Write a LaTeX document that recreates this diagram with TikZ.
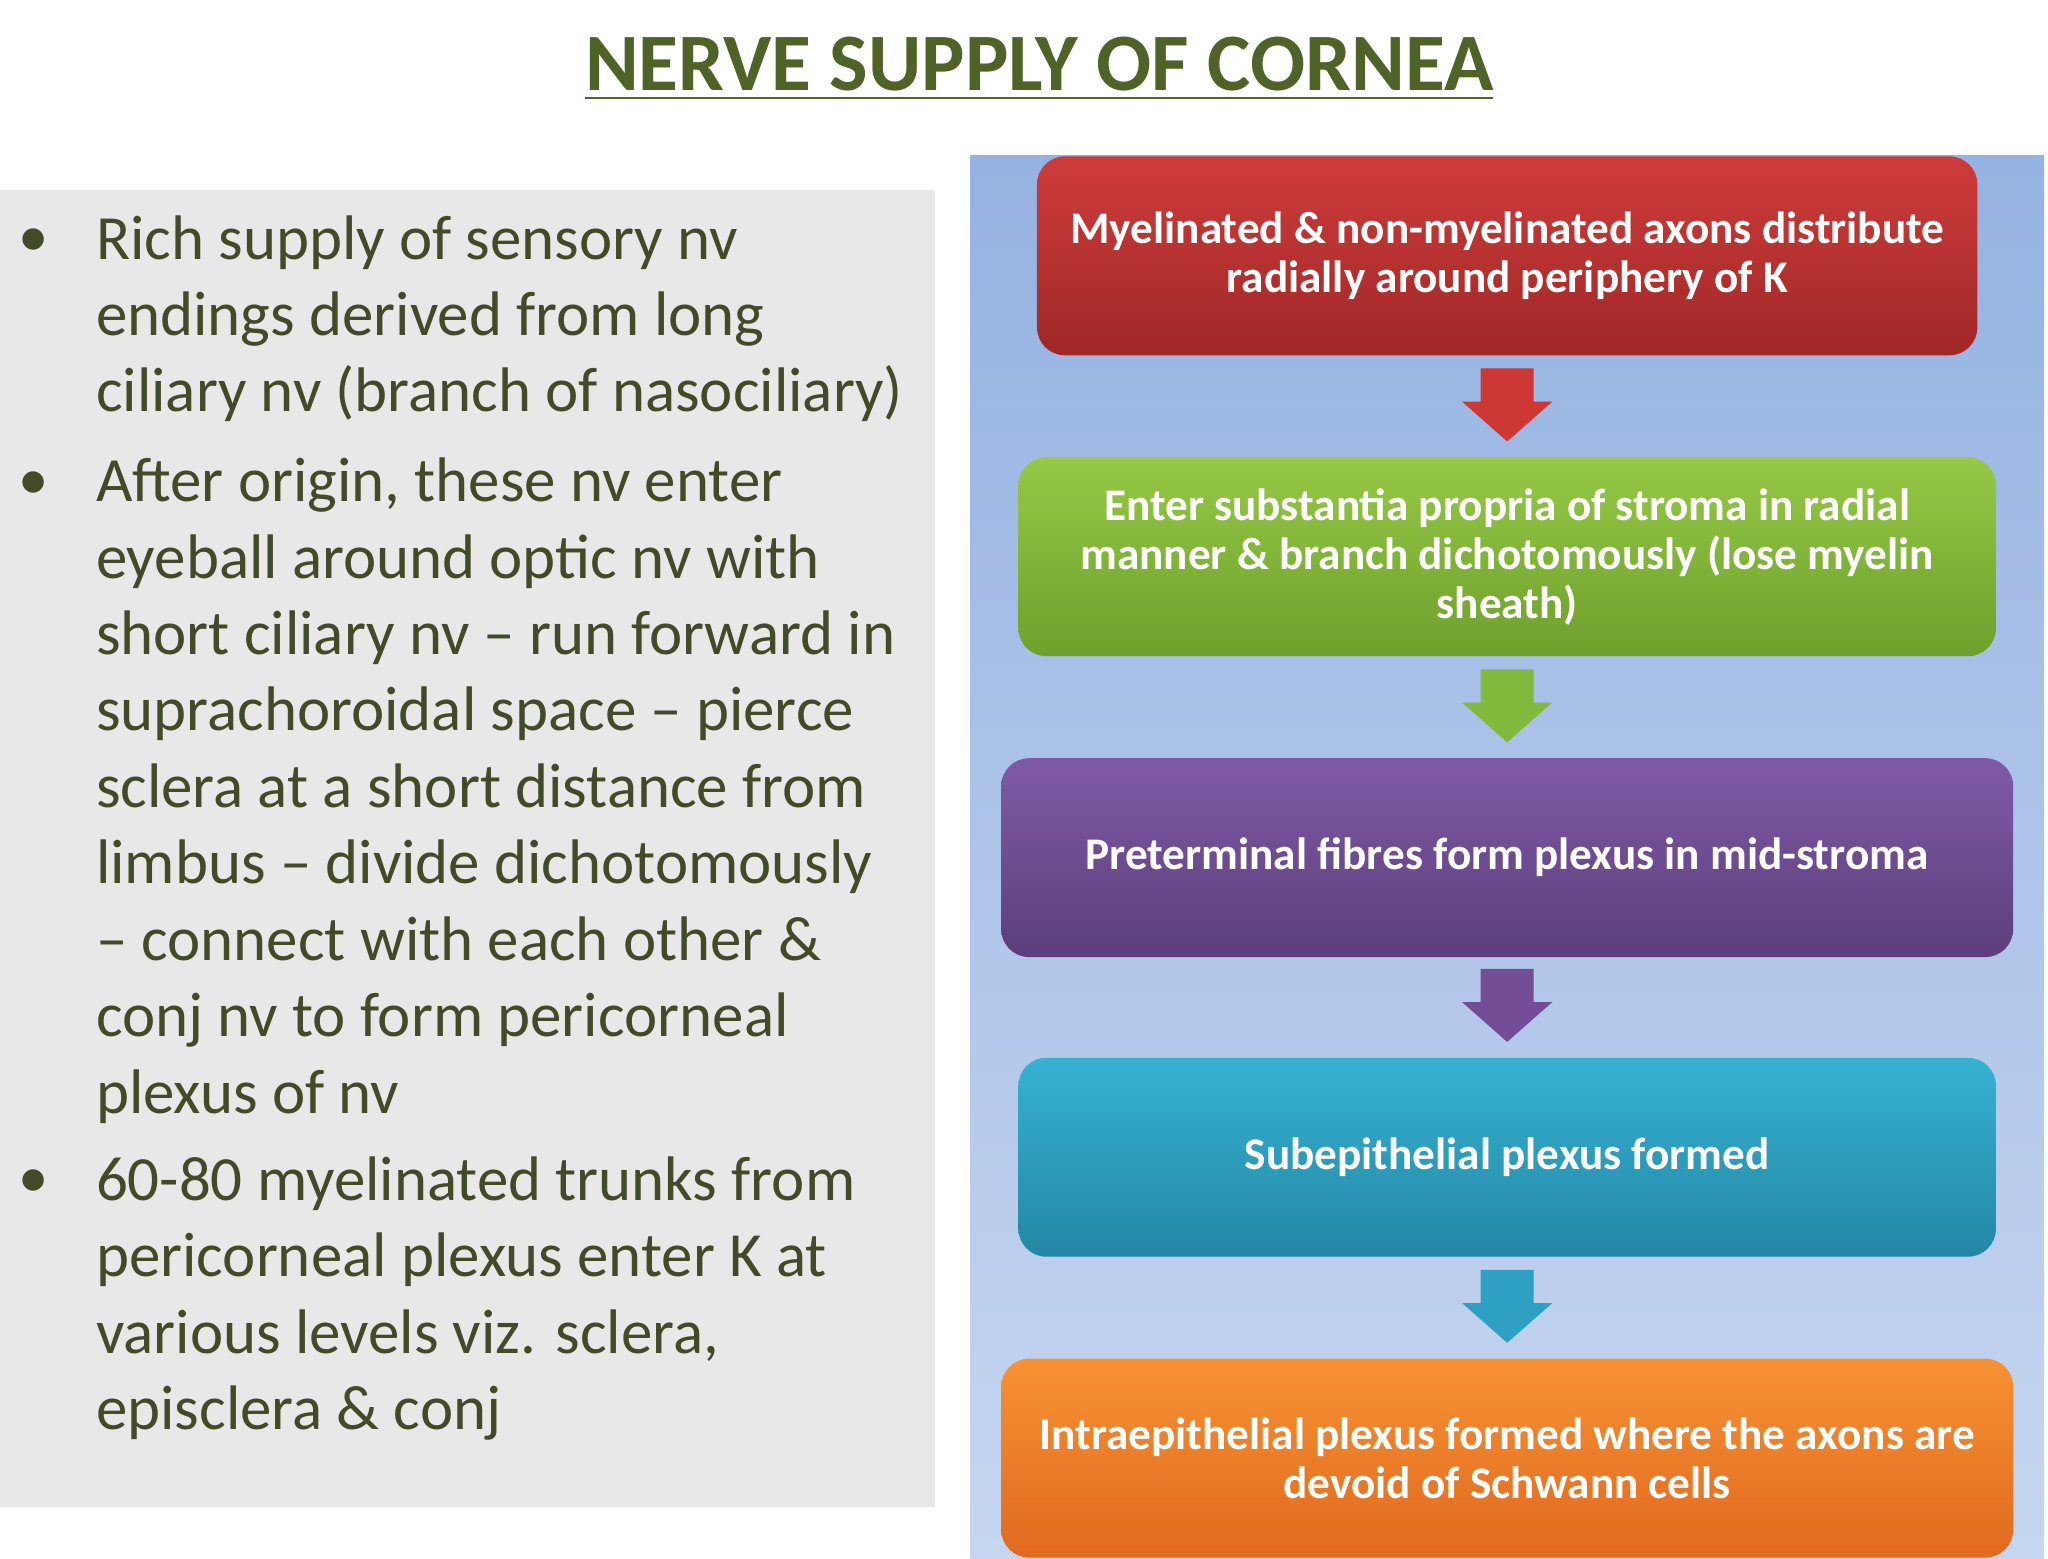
\documentclass[tikz,border=0pt]{standalone}
\usepackage{fontspec}
\setmainfont{Carlito}
\usetikzlibrary{positioning}
\definecolor{titlegreen}{RGB}{79,98,40}
\definecolor{bodytext}{RGB}{66,74,40}
\definecolor{arrowred}{RGB}{205,55,52}
\definecolor{arrowgreen}{RGB}{130,185,60}
\definecolor{arrowpurple}{RGB}{115,78,150}
\definecolor{arrowblue}{RGB}{45,160,195}
\tikzset{
  stepbox/.style={rounded corners=6pt,minimum height=1.5cm,text=white,
    font=\fontsize{9.7}{10.5}\selectfont\bfseries,align=center},
  bulletline/.style={anchor=north west,align=left,text=bodytext,
    font=\fontsize{13.5}{16.4}\selectfont},
}
% block arrow pointing down, centred on a named coordinate
\newcommand{\flowarrow}[2]{%
	\fill[#2] ([xshift=-0.2cm,yshift=0.28cm]#1) -- ([xshift=0.2cm,yshift=0.28cm]#1)
	-- ([xshift=0.2cm,yshift=0.03cm]#1) -- ([xshift=0.34cm,yshift=0.03cm]#1)
	-- ([yshift=-0.27cm]#1) -- ([xshift=-0.34cm,yshift=0.03cm]#1)
	-- ([xshift=-0.2cm,yshift=0.03cm]#1) -- cycle;}
\begin{document}
\begin{tikzpicture}[x=0.01cm,y=-0.01cm]
	\useasboundingbox[fill=white] (0,0) rectangle (1545,1176);
	% title
	\node[text=titlegreen,font=\fontsize{17.5}{20}\selectfont\bfseries] (title) at (784,52) {\underline{NERVE SUPPLY OF CORNEA}};
	% panels
	\fill[gray!18] (0,143) rectangle (705,1137);
	\shade[top color={rgb,255:red,150;green,178;blue,226},bottom color={rgb,255:red,198;green,214;blue,240}] (732,117) rectangle (1542,1176);
	% left text
	\node[bulletline] (bA) at (60,150) {Rich supply of sensory nv\\endings derived from long\\ciliary nv (branch of nasociliary)};
	\node[bulletline] (bB) at (60,333) {After origin, these nv enter\\eyeball around optic nv with\\short ciliary nv -- run forward in\\suprachoroidal space -- pierce\\sclera at a short distance from\\limbus -- divide dichotomously\\-- connect with each other \&\\conj nv to form pericorneal\\plexus of nv};
	\node[bulletline] (bC) at (60,860) {60-80 myelinated trunks from\\pericorneal plexus enter K at\\various levels viz. sclera,\\episclera \& conj};
	\foreach \b in {bA,bB,bC}
		\node[text=bodytext,font=\fontsize{13}{15}\selectfont] at ([xshift=-0.35cm,yshift=-0.33cm]\b.north west) {•};
	% flow boxes
	\node[stepbox,minimum width=7.09cm,top color={rgb,255:red,206;green,60;blue,58},bottom color={rgb,255:red,160;green,40;blue,40}] (myel) at (1137,193) {Myelinated \& non-myelinated axons distribute\\radially around periphery of K};
	\node[stepbox,minimum width=7.37cm,top color={rgb,255:red,150;green,200;blue,70},bottom color={rgb,255:red,110;green,160;blue,45}] (stroma) at (1137,420) {Enter substantia propria of stroma in radial\\manner \& branch dichotomously (lose myelin\\sheath)};
	\node[stepbox,minimum width=7.63cm,top color={rgb,255:red,128;green,90;blue,166},bottom color={rgb,255:red,92;green,62;blue,124}] (pret) at (1137,647) {Preterminal fibres form plexus in mid-stroma};
	\node[stepbox,minimum width=7.37cm,top color={rgb,255:red,55;green,178;blue,210},bottom color={rgb,255:red,35;green,135;blue,165}] (subep) at (1137,873) {Subepithelial plexus formed};
	\node[stepbox,minimum width=7.63cm,top color={rgb,255:red,246;green,146;blue,52},bottom color={rgb,255:red,225;green,105;blue,30}] (intra) at (1137,1100) {Intraepithelial plexus formed where the axons are\\devoid of Schwann cells};
	% arrows
	\coordinate (a1) at (1137,306);
	\coordinate (a2) at (1137,533);
	\coordinate (a3) at (1137,759);
	\coordinate (a4) at (1137,986);
	\flowarrow{a1}{arrowred}
	\flowarrow{a2}{arrowgreen}
	\flowarrow{a3}{arrowpurple}
	\flowarrow{a4}{arrowblue}
\end{tikzpicture}
\end{document}
